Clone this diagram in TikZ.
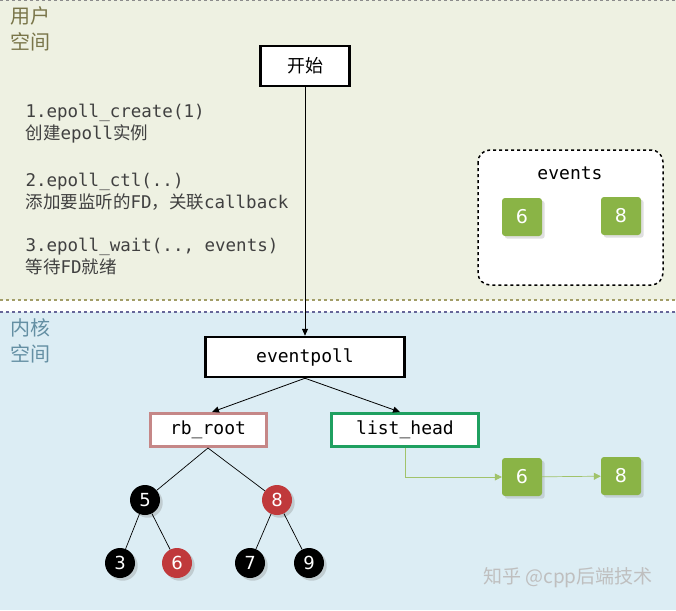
\documentclass[tikz,border=0pt]{standalone}
\usepackage{fontspec}
\setmainfont{DejaVu Sans}
\newfontfamily\cjk{Noto Sans CJK SC}
\newfontfamily\mono{DejaVu Sans Mono}
\usetikzlibrary{arrows.meta,shadows}
\definecolor{ubg}{HTML}{EEF1E2}
\definecolor{kbg}{HTML}{DCEDF4}
\definecolor{gbox}{HTML}{8AB446}
\definecolor{rnode}{HTML}{C0393B}
\definecolor{lhg}{HTML}{1FA060}
\tikzset{
 x=1pt,y=-1pt,
 bbox/.style={draw,line width=2.5pt,fill=white,minimum height=40pt,font=\mono\fontsize{18}{20}\selectfont},
 tnode/.style={circle,fill=black,text=white,minimum size=30pt,inner sep=0pt,font=\fontsize{18}{20}\selectfont,drop shadow={opacity=0.3}},
 rn/.style={tnode,fill=rnode},
 gsq/.style={rounded corners=3pt,fill=gbox,text=white,minimum width=40pt,minimum height=38pt,font=\fontsize{19}{20}\selectfont,drop shadow={opacity=0.25}},
 ar/.style={-{Triangle[length=7pt,width=6pt]},line width=0.8pt},
 tl/.style={line width=0.7pt},
 txt/.style={anchor=north west,align=left,font=\mono\fontsize{17.5}{22}\selectfont,text=black!75},
}
\begin{document}
\begin{tikzpicture}
\useasboundingbox (0,0) rectangle (676,610);
\fill[ubg] (0,0) rectangle (676,300);
\fill[white] (0,300) rectangle (676,312);
\fill[kbg] (0,312) rectangle (676,610);
\draw[dashed,line width=1pt,black!45] (0,1) -- (676,1);
\draw[dashed,line width=1.2pt,olive!60!black!60] (0,300) -- (676,300);
\draw[dashed,line width=1.2pt,gray!80!blue] (0,312) -- (676,312);
\node[anchor=north west,align=left,text=olive!50!black!80,font=\cjk\fontsize{20}{26}\selectfont] (us) at (7,3) {用户\\空间};
\node[anchor=north west,align=left,text=cyan!50!black!80,font=\cjk\fontsize{20}{26}\selectfont] (ks) at (7,315) {内核\\空间};
\node[txt] (t1) at (22,101) {1.epoll\_create(1)\\{\cjk 创建}epoll{\cjk 实例}};
\node[txt] (t2) at (22,170) {2.epoll\_ctl(..)\\{\cjk 添加要监听的}FD{\cjk ，关联}callback};
\node[txt] (t3) at (22,235) {3.epoll\_wait(.., events)\\{\cjk 等待}FD{\cjk 就绪}};
\node[bbox,minimum width=89pt,font=\cjk\fontsize{18}{20}\selectfont] (start) at (305,66) {开始};
\node[bbox,minimum width=199pt] (ep) at (305,357) {eventpoll};
\node[bbox,draw=red!35!gray!70,line width=3pt,minimum width=116pt,minimum height=33pt] (rb) at (208,430) {rb\_root};
\node[bbox,draw=lhg,line width=3pt,minimum width=147pt,minimum height=33pt] (lh) at (405,430) {list\_head};
\draw[ar] (start) -- (ep);
\draw[ar] (ep.south) -- ([xshift=4pt]rb.north);
\draw[ar] (ep.south) -- ([xshift=-5pt]lh.north);
\node[tnode] (n5) at (145,500) {5};
\node[rn] (n8) at (277,500) {8};
\node[tnode] (n3) at (120,563) {3};
\node[rn] (n6) at (177,563) {6};
\node[tnode] (n7) at (250,563) {7};
\node[tnode] (n9) at (309,563) {9};
\draw[tl] (rb.south) -- (n5) (rb.south) -- (n8) (n5) -- (n3) (n5) -- (n6) (n8) -- (n7) (n8) -- (n9);
\node[gsq] (l6) at (522,477) {6};
\node[gsq] (l8) at (621,476) {8};
\draw[-{Triangle[length=7pt,width=7pt]},gbox!80,line width=0.7pt] (lh.south) |- (l6);
\draw[-{Triangle[length=7pt,width=7pt]},gbox!80,line width=0.7pt] (l6) -- (l8);
\draw[dashed,line width=1.5pt,rounded corners=12pt,fill=white] (478,150) rectangle (663,285);
\node[font=\mono\fontsize{18}{20}\selectfont] (ev) at (570,173) {events};
\node[gsq] (e6) at (522,217) {6};
\node[gsq] (e8) at (621,216) {8};
\node[text=white!75!black,font=\cjk\fontsize{19}{20}\selectfont] (wm) at (568,578) {知乎 @cpp后端技术};
\end{tikzpicture}
\end{document}
